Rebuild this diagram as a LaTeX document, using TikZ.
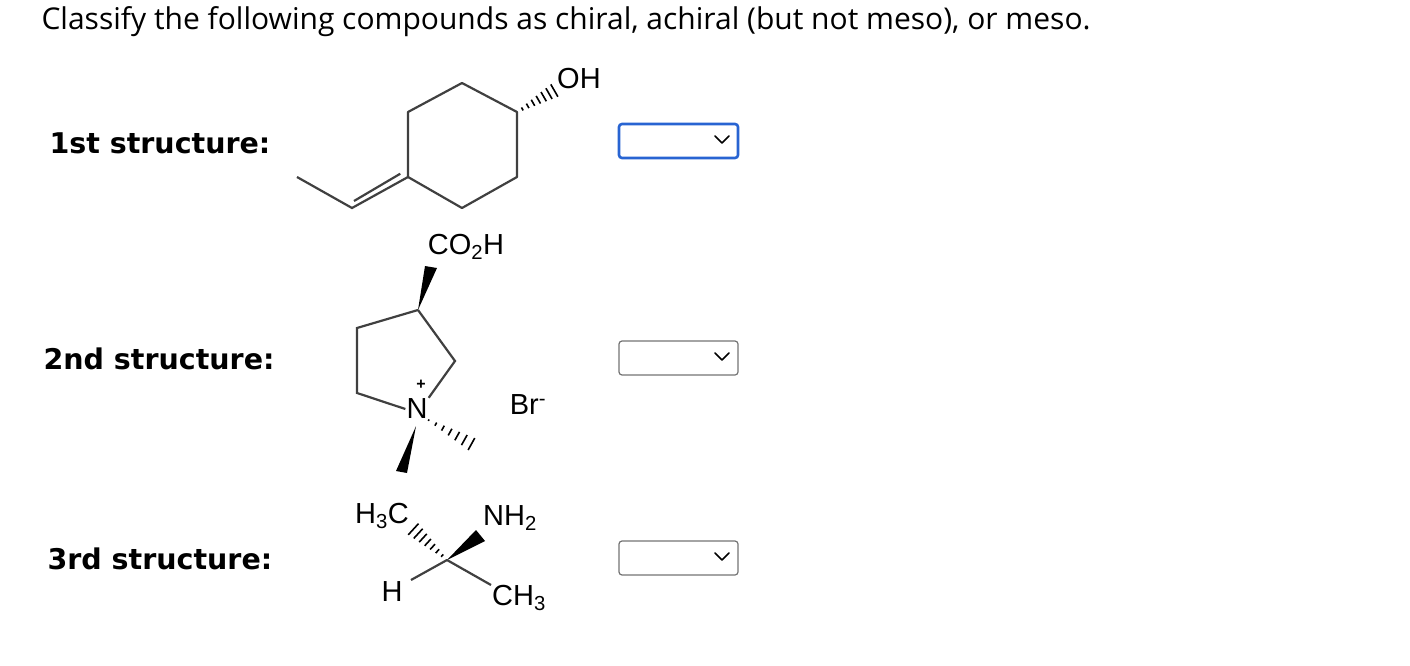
\documentclass[tikz,border=0pt]{standalone}
\usepackage{fontspec}
\setmainfont{Open Sans}
\newfontfamily\labfont{DejaVu Sans}
\newfontfamily\chemfont{Liberation Sans}
\usetikzlibrary{calc}
\begin{document}
\begin{tikzpicture}[x=1pt,y=-1pt,
  bond/.style={line width=2.2pt,draw=black!75},
  lab/.style={anchor=west,font=\labfont\bfseries\fontsize{28.5}{32}\selectfont},
  chem/.style={font=\chemfont\fontsize{29}{32}\selectfont,inner sep=1pt},
  box/.style={draw=black!55,line width=1.2pt,rounded corners=3pt},
  chev/.style={line width=1.5pt,line cap=round,line join=round}]
\useasboundingbox (0,0) rectangle (1410,666);
\node[anchor=west,font=\fontsize{30}{34}\selectfont] (title) at (38,22) {Classify the following compounds as chiral, achiral (but not meso), or meso.};
\node[lab] (l1) at (46,143) {1st structure:};
\node[lab] (l2) at (40,359) {2nd structure:};
\node[lab] (l3) at (44,559) {3rd structure:};
% dropdowns
\draw[box,draw={rgb,255:red,40;green,100;blue,210},line width=2.6pt] (619,124) rectangle (738,158);
\draw[chev] (715,136) -- (722,143) -- (729,136);
\draw[box] (619,341) rectangle (738,375);
\draw[chev] (715,353) -- (722,360) -- (729,353);
\draw[box] (619,541) rectangle (738,575);
\draw[chev] (715,553) -- (722,560) -- (729,553);
% structure 1
\coordinate (a1) at (462,83); \coordinate (a2) at (408,112); \coordinate (a3) at (408,177);
\coordinate (a4) at (462,208); \coordinate (a5) at (517,177); \coordinate (a6) at (517,112);
\coordinate (e1) at (352,208); \coordinate (e2) at (297,177);
\draw[bond,line join=round] (a1)--(a2)--(a3)--(a4)--(a5)--(a6)--cycle;
\draw[bond] (a3)--(e1)--(e2);
\draw[bond] ($(a3)!0.12!(e1)+(-1,-7)$) -- ($(e1)+(2,-7)$);
\node[chem,anchor=west] (oh) at (556,79) {OH};
\coordinate (ohb) at (557,89);
\foreach \i in {1,...,7}{\draw[line width=1.6pt] ($(a6)!{\i/7.5}!(ohb)!{(0.8+\i*0.9)*1pt}!90:(ohb)$) -- ($(a6)!{\i/7.5}!(ohb)!{(0.8+\i*0.9)*1pt}!-90:(ohb)$);}
% structure 2
\coordinate (c3) at (418,310); \coordinate (c4) at (357,328); \coordinate (c5) at (357,393);
\coordinate (n) at (417,409); \coordinate (c2) at (455,361);
\node[chem] (nn) at (n) {N};
\node[font=\chemfont\bfseries\fontsize{16}{16}\selectfont] (plus) at (421,385) {+};
\draw[bond] (c3)--(c4)--(c5)--(nn.west);
\draw[bond] (c3)--(c2)--(nn.north east);
\node[chem] (co2h) at (466,247) {CO\textsubscript{2}H};
\fill (c3) -- (425,266) -- (437,268) -- cycle;
\fill ($(nn.south)+(-1,6)$) -- (396,471) -- (407,473) -- cycle;
\coordinate (me) at (475,446);
\foreach \i in {0,...,6}{\draw[line width=1.6pt] ($(nn.south east)!{\i/6.5}!(me)!{(0.8+\i*1.0)*1pt}!90:(me)$) -- ($(nn.south east)!{\i/6.5}!(me)!{(0.8+\i*1.0)*1pt}!-90:(me)$);}
\node[chem] (br) at (528,405) {Br\textsuperscript{-}};
% structure 3
\coordinate (cc) at (447,560);
\node[chem] (h3c) at (382,516) {H\textsubscript{3}C};
\node[chem] (nh2) at (510,518) {NH\textsubscript{2}};
\node[chem] (h) at (392,592) {H};
\node[chem] (ch3) at (519,598) {CH\textsubscript{3}};
\coordinate (hb) at (411,527);
\foreach \i in {0,...,7}{\draw[line width=1.6pt] ($(cc)!{\i/7.5}!(hb)!{(0.6+\i*1.0)*1pt}!90:(hb)$) -- ($(cc)!{\i/7.5}!(hb)!{(0.6+\i*1.0)*1pt}!-90:(hb)$);}
\fill (cc) -- (476,530) -- (485,541) -- cycle;
\draw[bond] (cc) -- (411,580);
\draw[bond] (cc) -- (491,585);
\end{tikzpicture}
\end{document}
